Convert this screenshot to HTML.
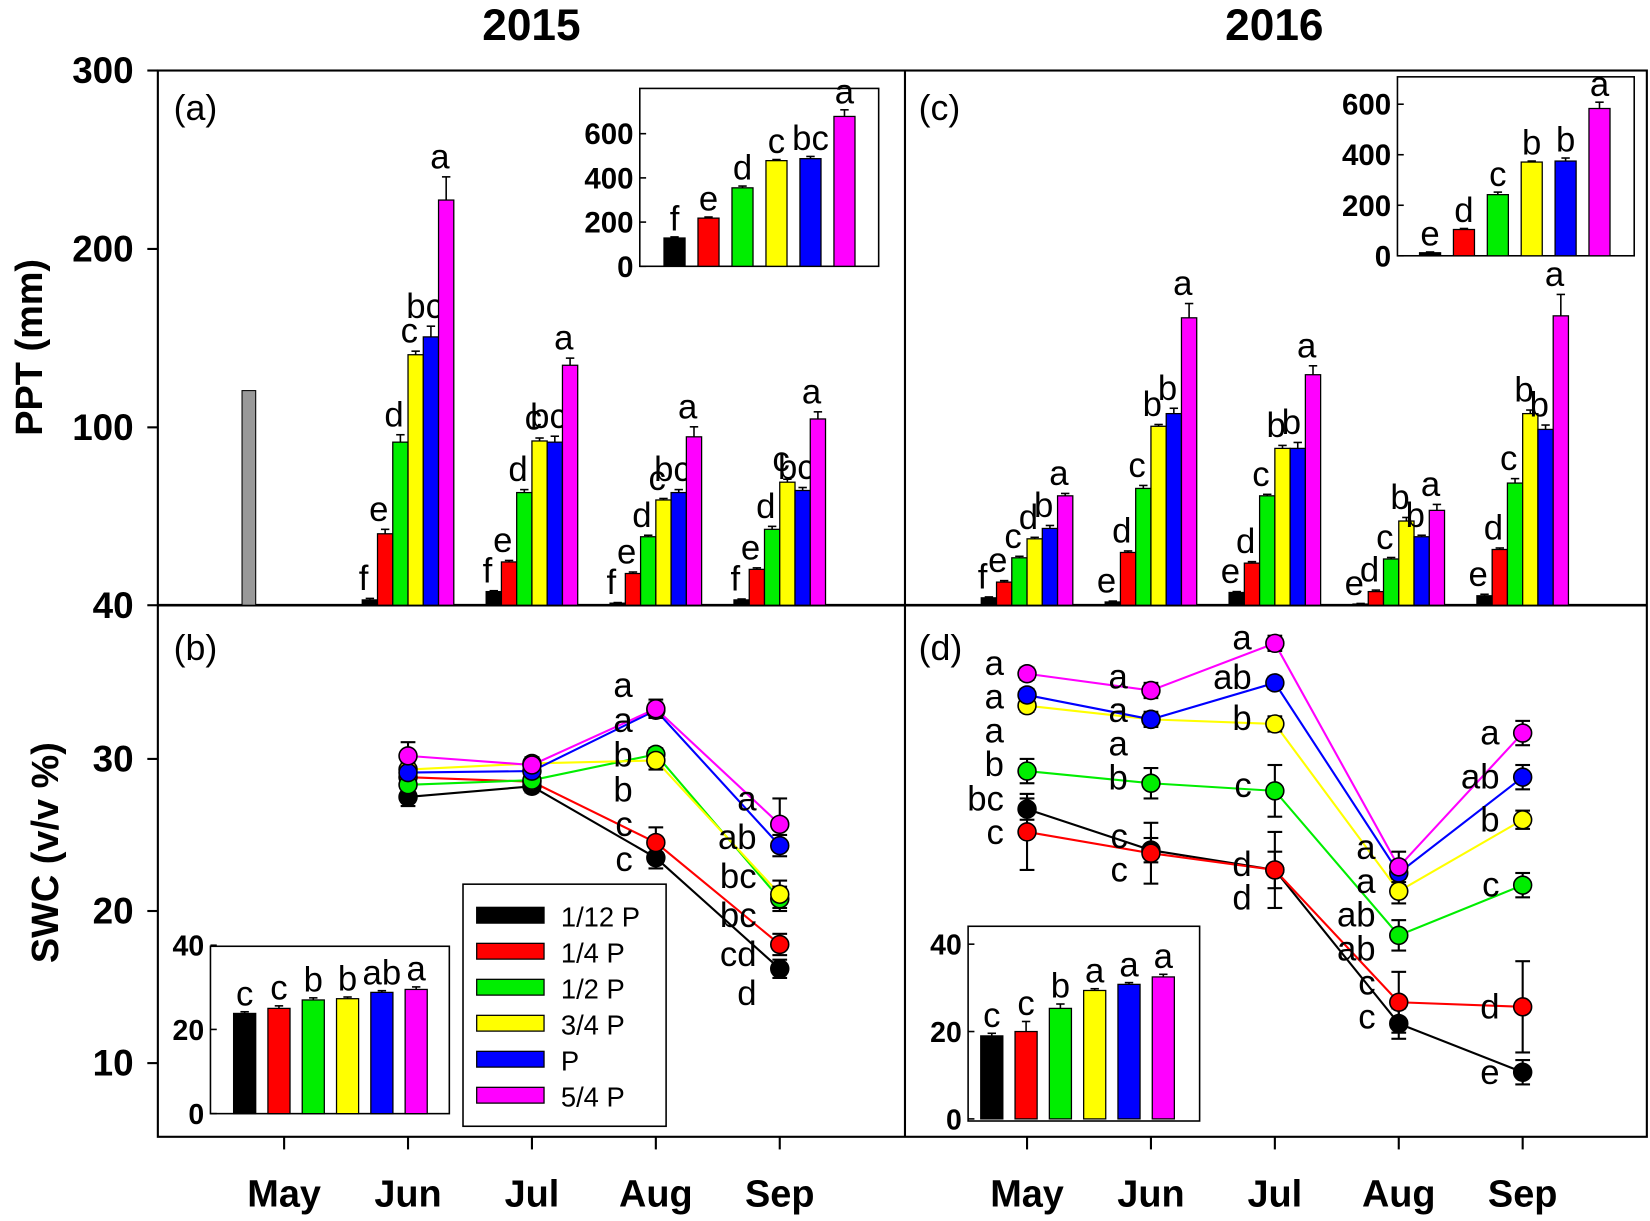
<!DOCTYPE html>
<html><head><meta charset="utf-8"><style>
html,body{margin:0;padding:0;background:#fff}
svg{display:block}
text{font-family:"Liberation Sans",Arial,sans-serif}
</style></head><body>
<svg id="chart" width="1650" height="1221" viewBox="0 0 1568 1160" preserveAspectRatio="none" xmlns="http://www.w3.org/2000/svg"></svg>
<script>
const months = ["May","Jun","Jul","Aug","Sep"];
const treatments = ["1/12 P","1/4 P","1/2 P","3/4 P","P","5/4 P"];
const colors = ["#000000","#ff0000","#00ee00","#ffff00","#0000ff","#ff00ff"];
const ppt2015May = 120.6;
const ppt2015 = [[41.8,64.1,95.0,140.7,150.7,227.4],[44.6,54.6,78.0,95.4,95.0,134.8],[40.7,50.7,63.1,75.5,78.0,96.8],[41.8,52.1,65.6,81.5,78.7,104.7]];
const ppt2015Err = [[0.5,1.5,2.5,2,6,13],[0.3,0.5,1,1,2,4],[0.2,0.5,0.5,0.5,1,3.5],[0.3,0.5,1,1,1,4]];
const ppt2015Let = [["f","e","d","c","bc","a"],["f","e","d","c","bc","a"],["f","e","d","c","bc","a"],["f","e","d","c","bc","a"]];
const ppt2016 = [[42.5,47.8,56.0,62.4,65.9,76.9],[41.1,57.8,79.4,100.6,107.7,161.4],[44.3,54.2,76.9,92.9,92.9,129.5],[40.4,44.6,55.6,68.4,63.1,72.0],[43.2,58.8,81.2,107.7,99.3,162.5]];
const ppt2016Err = [[0.3,0.5,0.5,0.5,1,0.8],[0.3,0.5,1,1,3,8],[0.3,0.5,0.5,1,2,5],[0.2,0.5,0.5,1.2,0.5,2],[0.5,0.5,1.5,2,2,12]];
const ppt2016Let = [["f","e","c","d","b","a"],["e","d","c","b","b","a"],["e","d","c","b","b","a"],["e","d","c","b","b","a"],["e","d","c","b","b","a"]];
const tot2015 = [128,218,355,478,487,678];
const tot2015Err = [5,5,8,5,10,30];
const tot2015Let = ["f","e","d","c","bc","a"];
const tot2016 = [12,104,242,371,375,583];
const tot2016Err = [3,4,10,4,12,25];
const tot2016Let = ["e","d","c","b","b","a"];
const swc2015 = [[27.5,28.2,23.5,16.2],[28.8,28.5,24.5,17.8],[28.3,28.6,30.3,20.8],[29.3,29.7,29.9,21.1],[29.1,29.2,33.2,24.3],[30.2,29.6,33.3,25.7]];
const swc2015Err = [[0.6,0.4,0.7,0.6],[0.5,0.4,1.0,0.7],[0.5,0.4,0.4,0.8],[0.5,0.4,0.6,0.9],[0.5,0.4,0.5,0.7],[0.9,0.5,0.6,1.7]];
const swc2015AugLet = ["c","c","b","b","a","a"];
const swc2015SepLet = ["d","cd","bc","bc","ab","a"];
const swc2016 = [[26.7,24.0,22.7,12.6,9.4],[25.2,23.8,22.7,14.0,13.7],[29.2,28.4,27.9,18.4,21.7],[33.5,32.6,32.3,21.3,26.0],[34.2,32.6,35.0,22.5,28.8],[35.6,34.5,37.6,22.9,31.7]];
const swc2016Err = [[0.7,0.8,1.2,1.0,0.8],[2.5,2.0,2.5,2.0,3.0],[0.8,1.0,1.7,1.0,0.8],[0.4,0.5,0.5,0.8,0.6],[0.4,0.4,0.4,0.8,0.8],[0.4,0.5,0.5,1.0,0.8]];
const swc2016Let = [["bc","c","d","c","e"],["c","c","d","c","d"],["b","b","c","ab","c"],["a","a","b","ab","b"],["a","a","ab","a","ab"],["a","a","a","a","a"]];
const swcTot2015 = [23.8,25.0,27.0,27.3,28.8,29.5];
const swcTot2015Err = [0.4,0.6,0.5,0.4,0.4,0.6];
const swcTot2015Let = ["c","c","b","b","ab","a"];
const swcTot2016 = [19.0,20.0,25.3,29.4,30.8,32.5];
const swcTot2016Err = [0.6,2.3,1.0,0.4,0.4,0.6];
const swcTot2016Let = ["c","c","b","a","a","a"];
const pptTicks = [300,200,100,40];
const swcTicks = [30,20,10];

const svg = document.getElementById('chart');
const NS = "http://www.w3.org/2000/svg";
function mk(tag, attrs, parent){const e=document.createElementNS(NS,tag);for(const k in attrs)e.setAttribute(k,attrs[k]);(parent||svg).appendChild(e);return e;}
function txt(s, x, y, size, opts, parent){const e=mk('text',Object.assign({x:x,y:y,'font-size':size},opts||{}),parent);e.textContent=s;return e;}

const L=150,R=1565,T=67,M=575,B=1080,MID=860;
function topY(v){return v>=100 ? 406-(v-100)*1.695 : 575-(v-40)*2.817;}
function botY(v){return 721-(v-30)*14.45;}
function monthX(panel,i){return (panel?976:270)+i*117.75;}

let t;
t=txt("2015",505,38,42,{'font-weight':'bold','text-anchor':'middle'});


t=txt("2016",1211,38,42,{'font-weight':'bold','text-anchor':'middle'});


t=txt("PPT (mm)",0,0,36,{'font-weight':'bold','text-anchor':'middle',transform:'translate(40,330) rotate(-90)'});


t=txt("SWC (v/v %)",0,0,36,{'font-weight':'bold','text-anchor':'middle',transform:'translate(55,810) rotate(-90)'});



let f=mk('rect',{x:L,y:T,width:R-L,height:B-T,fill:'none',stroke:'#000','stroke-width':2});


mk('line',{x1:L,y1:M,x2:R,y2:M,stroke:'#000','stroke-width':2.5});
mk('line',{x1:MID,y1:T,x2:MID,y2:B,stroke:'#000','stroke-width':2});

pptTicks.forEach(v=>{const y=topY(v);mk('line',{x1:L-10,y1:y,x2:L,y2:y,stroke:'#000','stroke-width':2});
 const e=txt(String(v),L-23,y+12,35,{'font-weight':'bold','text-anchor':'end'});
 
 });
swcTicks.forEach(v=>{const y=botY(v);mk('line',{x1:L-10,y1:y,x2:L,y2:y,stroke:'#000','stroke-width':2});
 const e=txt(String(v),L-23,y+12,35,{'font-weight':'bold','text-anchor':'end'});
 
 });
[0,1].forEach(p=>{months.forEach((m,i)=>{const x=monthX(p,i);mk('line',{x1:x,y1:B,x2:x,y2:B+12,stroke:'#000','stroke-width':2});
 const e=txt(m,x,B+66,36,{'font-weight':'bold','text-anchor':'middle'});
 
 });});

[["(a)",165,114],["(c)",873,114],["(b)",165,627],["(d)",873,627]].forEach(a=>{const e=txt(a[0],a[1],a[2],34);
 
 });

const BW=14.5;
function barGroup(vals,errs,lets,cx){
 vals.forEach((v,k)=>{const x=cx+(k-3)*BW;const y=topY(v);
  const r=mk('rect',{x:x,y:y,width:BW,height:M-y,fill:colors[k],stroke:'#000','stroke-width':1.2});
  
  
  const ye=topY(v+errs[k]);
  mk('line',{x1:x+BW/2,y1:y,x2:x+BW/2,y2:ye,stroke:'#000','stroke-width':1.5});
  mk('line',{x1:x+BW/2-4,y1:ye,x2:x+BW/2+4,y2:ye,stroke:'#000','stroke-width':1.5});
  const l=txt(lets[k],x+BW/2-6,ye-8,33,{'text-anchor':'middle'});
  
  
 });
}
{const y=topY(ppt2015May);const r=mk('rect',{x:monthX(0,0)-40,y:y,width:13,height:M-y,fill:'#999',stroke:'#000','stroke-width':1});
 
 }
ppt2015.forEach((g,i)=>barGroup(g,ppt2015Err[i],ppt2015Let[i],monthX(0,i+1)));
ppt2016.forEach((g,i)=>barGroup(g,ppt2016Err[i],ppt2016Let[i],monthX(1,i)));

function inset(box,vals,errs,lets,ymax,ticks,firstX,step,bw,name){
 const g=mk('g',{});
 
 
 mk('rect',{x:box.x,y:box.y,width:box.w,height:box.h,fill:'#fff',stroke:'#000','stroke-width':1.5},g);
 const y0=box.y0, y1=box.yTop;
 const sy=v=>y0-(v/ymax)*(y0-y1);
 ticks.forEach(v=>{mk('line',{x1:box.x,y1:sy(v),x2:box.x+6,y2:sy(v),stroke:'#000','stroke-width':1.5},g);
  const e=txt(String(v),box.x-6,sy(v)+10,box.fs,{'font-weight':'bold','text-anchor':'end'},g);
  
  });
 vals.forEach((v,k)=>{const x=firstX+k*step;const y=sy(v);
  const r=mk('rect',{x:x,y:y,width:bw,height:y0-y,fill:colors[k],stroke:'#000','stroke-width':1.2},g);
  
  
  const ye=sy(v+errs[k]);
  mk('line',{x1:x+bw/2,y1:y,x2:x+bw/2,y2:ye,stroke:'#000','stroke-width':1.5},g);
  mk('line',{x1:x+bw/2-4,y1:ye,x2:x+bw/2+4,y2:ye,stroke:'#000','stroke-width':1.5},g);
  const l=txt(lets[k],x+bw/2,ye-6,33,{'text-anchor':'middle'},g);
  
  });
}
inset({x:608,y:84,w:227,h:169,y0:253,yTop:127,fs:28},tot2015,tot2015Err,tot2015Let,600,[0,200,400,600],631,32.3,20,'ppt-total-inset-2015');
inset({x:1328,y:73,w:225,h:170,y0:243,yTop:99,fs:28},tot2016,tot2016Err,tot2016Let,600,[0,200,400,600],1349,32.2,20,'ppt-total-inset-2016');
inset({x:200,y:899,w:227,h:159,y0:1058,yTop:898,fs:27},swcTot2015,swcTot2015Err,swcTot2015Let,40,[0,20,40],222,32.6,21,'swc-mean-inset-2015');
inset({x:920,y:880,w:220,h:185,y0:1063,yTop:897,fs:27},swcTot2016,swcTot2016Err,swcTot2016Let,40,[0,20,40],932,32.6,21,'swc-mean-inset-2016');

function lines(data,errs,panel,startIdx,name){
 data.forEach((ser,k)=>{
  const pts=ser.map((v,i)=>monthX(panel,i+startIdx)+','+botY(v)).join(' ');
  const pl=mk('polyline',{points:pts,fill:'none',stroke:colors[k],'stroke-width':2});
  
  
 });
 data.forEach((ser,k)=>{ser.forEach((v,i)=>{const x=monthX(panel,i+startIdx);const e=errs[k][i];
  const a=botY(v+e),b=botY(v-e);
  mk('line',{x1:x,y1:a,x2:x,y2:b,stroke:'#000','stroke-width':2});
  mk('line',{x1:x-7,y1:a,x2:x+7,y2:a,stroke:'#000','stroke-width':2});
  mk('line',{x1:x-7,y1:b,x2:x+7,y2:b,stroke:'#000','stroke-width':2});
 });});
 data.forEach((ser,k)=>{ser.forEach((v,i)=>{const x=monthX(panel,i+startIdx);
  const c=mk('circle',{cx:x,cy:botY(v),r:8.5,fill:colors[k],stroke:'#000','stroke-width':1.5});
  
  });});
}
function colLabels(vals,lets,x,gap){
 const idx=vals.map((v,k)=>k).sort((a,b)=>vals[b]-vals[a]);
 const want=idx.map(k=>botY(vals[k]));
 const pos=[];let prev=-1e9;
 want.forEach(w=>{const y=Math.max(w,prev+gap);pos.push(y);prev=y;});
 const shift=want.reduce((a,b)=>a+b,0)/want.length-pos.reduce((a,b)=>a+b,0)/pos.length;
 idx.forEach((k,j)=>{
  const l=txt(lets[k],x-22,pos[j]+shift+11,33,{'text-anchor':'end'});
  
  });
}
lines(swc2015,swc2015Err,0,1,'swc-2015');
colLabels(swc2015.map(s=>s[2]),swc2015AugLet,monthX(0,3),33);
colLabels(swc2015.map(s=>s[3]),swc2015SepLet,monthX(0,4),37);
lines(swc2016,swc2016Err,1,0,'swc-2016');
months.forEach((m,i)=>colLabels(swc2016.map(s=>s[i]),swc2016Let.map(s=>s[i]),monthX(1,i),32));

{const g=mk('g',{});
 
 
 mk('rect',{x:440,y:840,width:193,height:230,fill:'#fff',stroke:'#000','stroke-width':1.5},g);
 treatments.forEach((n,k)=>{const y=870+k*34.2;
  const s=mk('rect',{x:453,y:y-8,width:64,height:15,fill:colors[k],stroke:'#000','stroke-width':1.2},g);
  
  
  const e=txt(n,533,y+10,26,{},g);
  
  });}
</script>
</body></html>
